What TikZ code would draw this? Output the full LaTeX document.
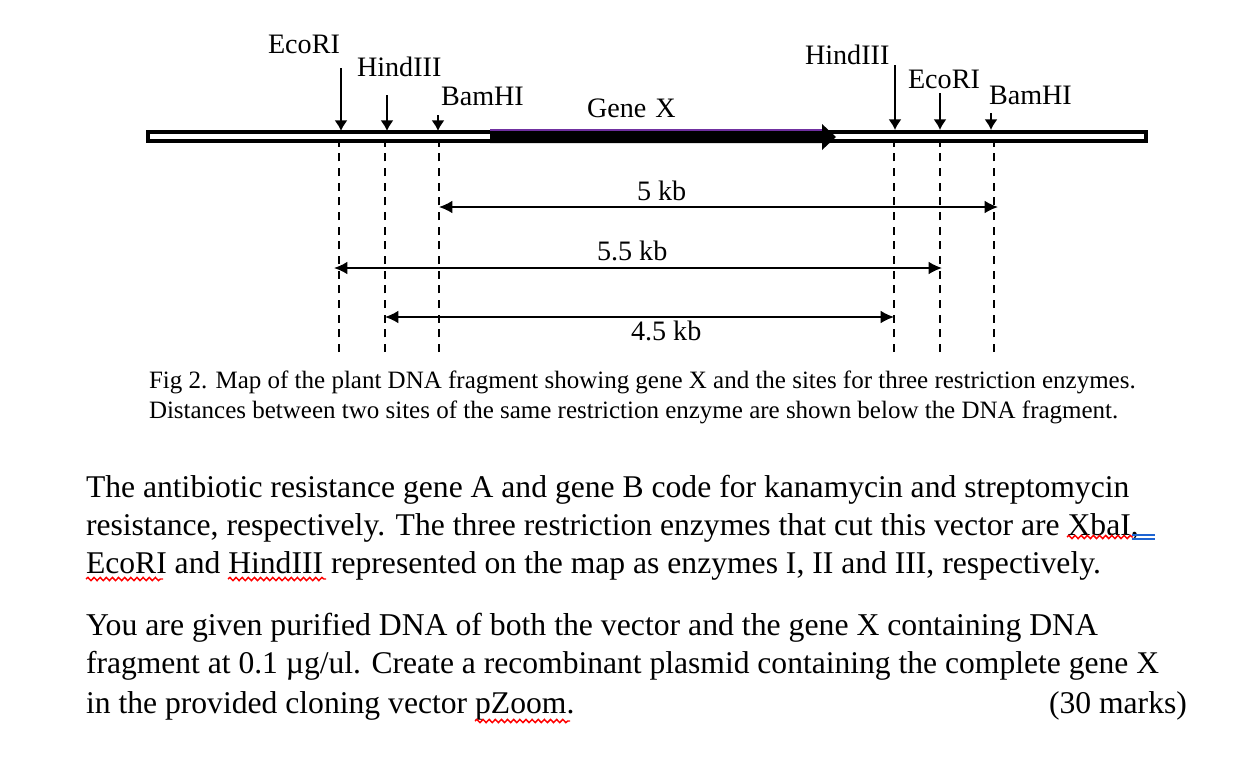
\documentclass[tikz,border=0pt]{standalone}
\usepackage{fontspec}
\setmainfont{Liberation Serif}
\usetikzlibrary{arrows.meta,decorations.pathmorphing}
\tikzset{
  x=0.75pt,y=-0.75pt,
  lab/.style={anchor=base west,inner sep=0pt,outer sep=0pt,font=\fontsize{21.1}{24}\selectfont},
  captext/.style={anchor=base west,inner sep=0pt,outer sep=0pt,font=\fontsize{18.74}{22}\selectfont},
  body/.style={anchor=base west,inner sep=0pt,outer sep=0pt,font=\fontsize{23.72}{28}\selectfont},
  cutarrow/.style={line width=1.5pt,-{Latex[length=8pt,width=10pt]}},
  dimarrow/.style={line width=1.2pt,{Latex[length=10pt,width=9.5pt]}-{Latex[length=10pt,width=9.5pt]}},
  guide/.style={line width=1.5pt,dash pattern=on 6pt off 5pt},
  dnabar/.style={draw=black,line width=2.8pt,fill=white},
  squig/.style={draw=red,line width=1.1pt,decorate,decoration={snake,amplitude=1.2pt,segment length=4.6pt}},
}
\begin{document}
\begin{tikzpicture}
\useasboundingbox (0,0) rectangle (1254,772);
\fill[white] (0,0) rectangle (1254,772);
% DNA bar
\draw[dnabar] (148,132) rectangle (1146,141);
% Gene X
\fill[black] (490,130.5) -- (822,130.5) -- (822,124) -- (836,137) -- (822,150) -- (822,143) -- (490,143) -- cycle;
\draw[draw={rgb,255:red,112;green,48;blue,160},line width=1pt] (490,130) -- (822,130);
% Site coordinates
\coordinate (e1a) at (341,68);  \coordinate (e1b) at (341,131);
\coordinate (h1a) at (387,95);  \coordinate (h1b) at (387,131);
\coordinate (b1a) at (438,115); \coordinate (b1b) at (438,131);
\coordinate (h2a) at (895,65);  \coordinate (h2b) at (895,130);
\coordinate (e2a) at (940,93);  \coordinate (e2b) at (940,130);
\coordinate (b2a) at (991,113); \coordinate (b2b) at (991,130);
\draw[cutarrow] (e1a) -- (e1b);
\draw[cutarrow] (h1a) -- (h1b);
\draw[cutarrow] (b1a) -- (b1b);
\draw[cutarrow] (h2a) -- (h2b);
\draw[cutarrow] (e2a) -- (e2b);
\draw[cutarrow] (b2a) -- (b2b);
% Guides
\foreach \n/\gx in {ga/339,gb/385,gc/439,gd/894,ge/940,gf/994}{
  \coordinate (\n t) at (\gx,132);
  \coordinate (\n b) at (\gx,352);
  \draw[guide] (\n b) -- (\n t);
}
% Distances
\coordinate (d1l) at (439,207); \coordinate (d1r) at (998,207);
\coordinate (d2l) at (334,268); \coordinate (d2r) at (942,268);
\coordinate (d3l) at (385,317); \coordinate (d3r) at (894,317);
\draw[dimarrow] (d1l) -- (d1r);
\draw[dimarrow] (d2l) -- (d2r);
\draw[dimarrow] (d3l) -- (d3r);
% Labels
\node[lab] (l1) at (268,53) {EcoRI};
\node[lab] (l2) at (357,76) {HindIII};
\node[lab] (l3) at (441,105) {BamHI};
\node[lab] (l4) at (587,117) {Gene\hspace{1.5pt} X};
\node[lab] (l5) at (805,64) {HindIII};
\node[lab] (l6) at (908,88) {EcoRI};
\node[lab] (l7) at (989,104) {BamHI};
\node[lab] (k1) at (637,200) {5 kb};
\node[lab] (k2) at (597,260) {5.5 kb};
\node[lab] (k3) at (631,340) {4.5 kb};
% Caption
\node[captext] (c1) at (149,388) {Fig 2. Map of the plant DNA fragment showing gene X and the sites for three restriction enzymes.};
\node[captext] (c2) at (149,418) {Distances between two sites of the same restriction enzyme are shown below the DNA fragment.};
% Body
\node[body] (t1) at (86,497) {The antibiotic resistance gene A and gene B code for kanamycin and streptomycin};
\node[body] (t2) at (86,535) {resistance, respectively. The three restriction enzymes that cut this vector are XbaI,};
\node[body] (t3) at (86,573) {EcoRI and HindIII represented on the map as enzymes I, II and III, respectively.};
\node[body,font=\fontsize{23.8}{28}\selectfont] (t4) at (86,635) {You are given purified DNA of both the vector and the gene X containing DNA};
\node[body,font=\fontsize{23.68}{28}\selectfont] (t5) at (86,673) {fragment at 0.1 µg/ul. Create a recombinant plasmid containing the complete gene X};
\node[body] (t6) at (86,713) {in the provided cloning vector pZoom.};
\node[body] (t7) at (1049,713) {(30 marks)};
% Proofing marks
\coordinate (s1a) at (86,579);   \coordinate (s1b) at (163,579);
\coordinate (s2a) at (228,579);  \coordinate (s2b) at (326,579);
\coordinate (s3a) at (1067,537); \coordinate (s3b) at (1133,537);
\coordinate (s4a) at (475,721);  \coordinate (s4b) at (570,721);
\draw[squig] (s1a) -- (s1b);
\draw[squig] (s2a) -- (s2b);
\draw[squig] (s3a) -- (s3b);
\draw[squig] (s4a) -- (s4b);
\coordinate (u1a) at (1132,535); \coordinate (u1b) at (1155,535);
\coordinate (u2a) at (1132,539); \coordinate (u2b) at (1155,539);
\draw[draw={rgb,255:red,30;green,100;blue,210},line width=1pt] (u1a) -- (u1b);
\draw[draw={rgb,255:red,30;green,100;blue,210},line width=1pt] (u2a) -- (u2b);
\end{tikzpicture}
\end{document}
